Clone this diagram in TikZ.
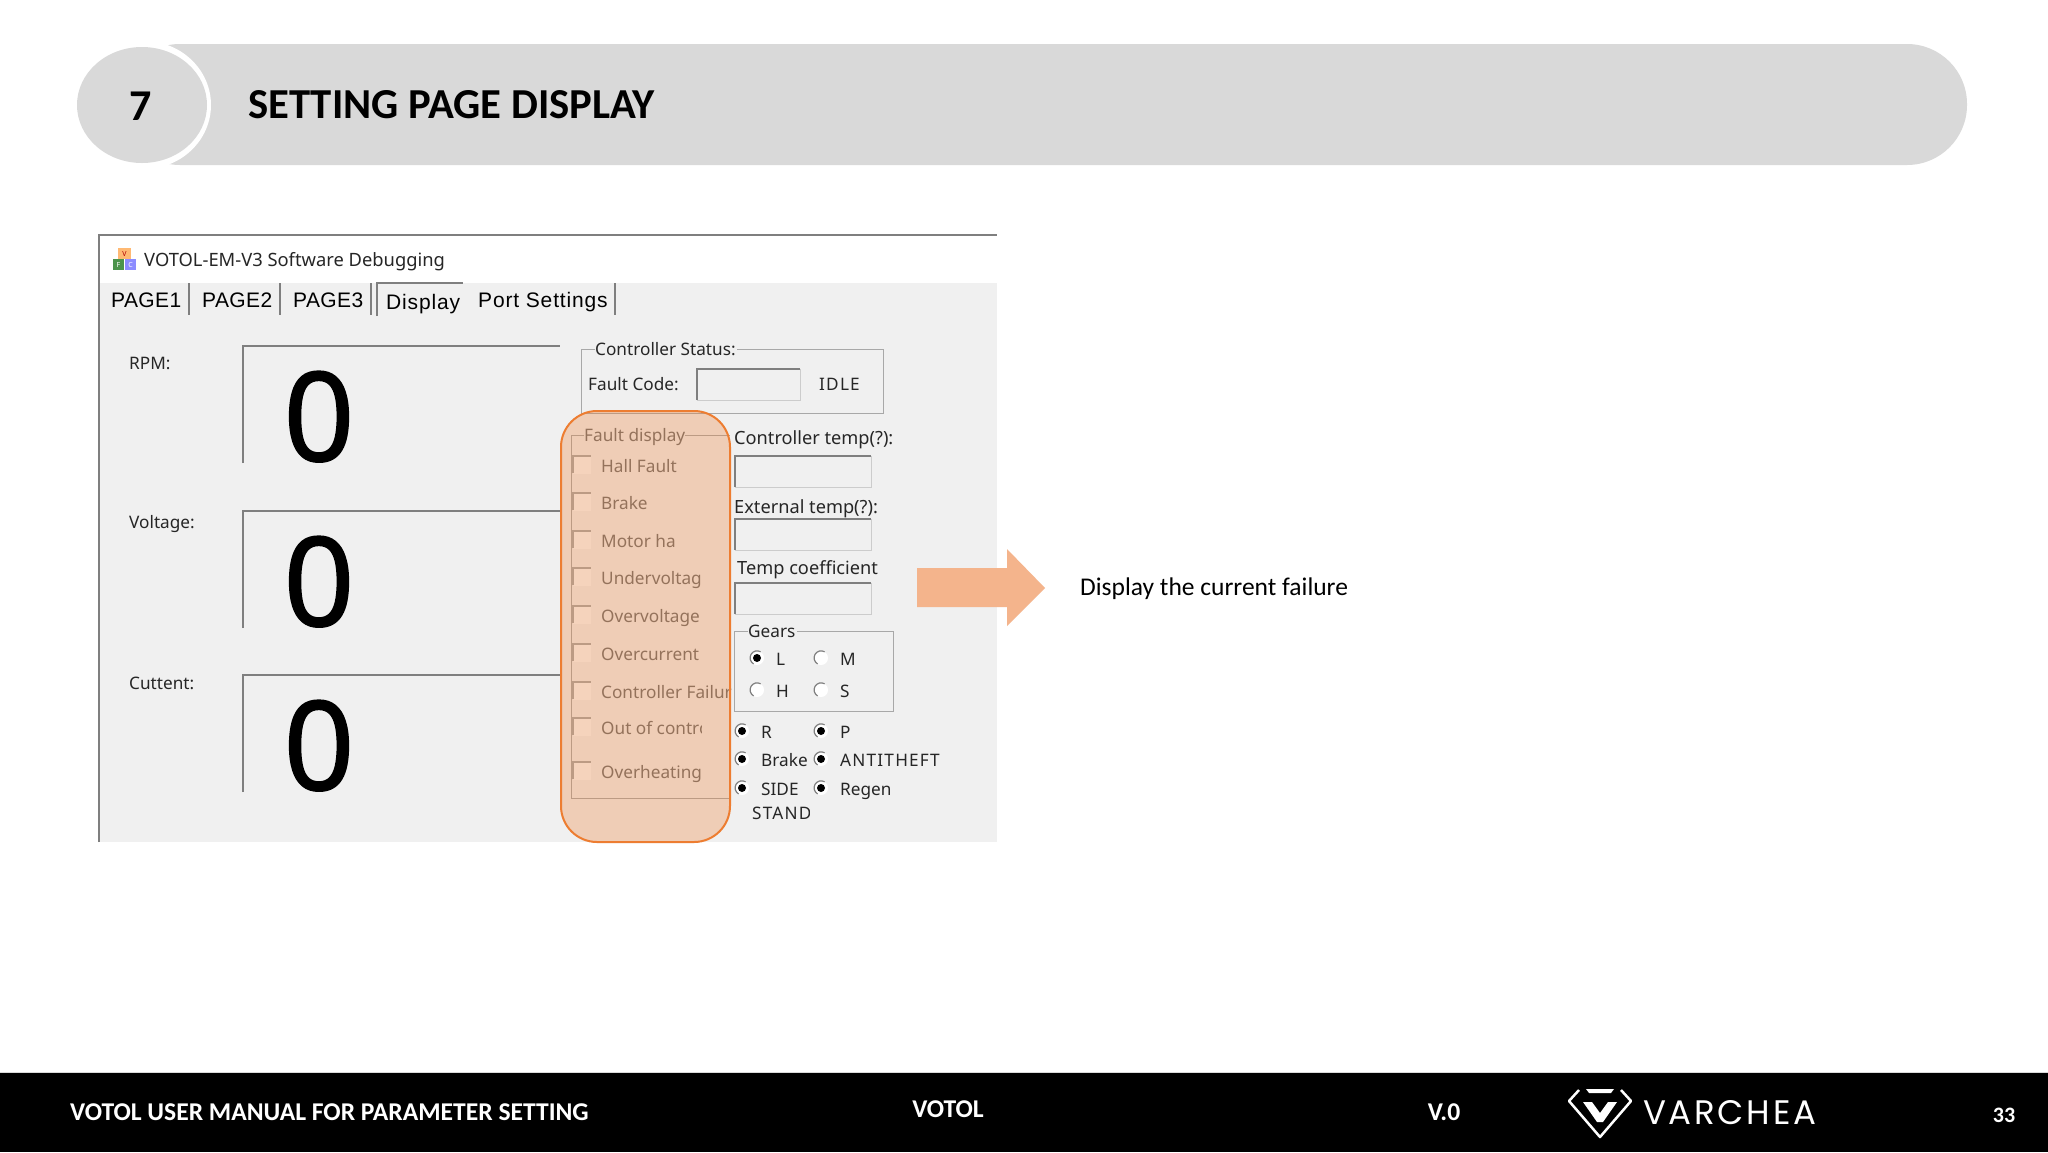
\documentclass[tikz,border=0pt]{standalone}
\usepackage{fontspec}
\setmainfont{Carlito}
\newfontfamily\uifont{Noto Sans}
\newfontfamily\ledfont[FakeBold=1.2]{Noto Sans}
\newfontfamily\uicaps[LetterSpace=7]{Noto Sans}
\newfontfamily\tabfont[LetterSpace=2]{Liberation Sans}
\newfontfamily\tabwide[LetterSpace=4]{Liberation Sans}
\newfontfamily\logofont[LetterSpace=8]{Poppins}
\usetikzlibrary{positioning,shapes,arrows}
\definecolor{bannergray}{HTML}{D9D9D9}
\definecolor{panelgray}{HTML}{F0F0F0}
\definecolor{uiline}{HTML}{7F7F7F}
\definecolor{uilight}{HTML}{A8A8A8}
\definecolor{uitext}{HTML}{262626}
\definecolor{distext}{HTML}{6E6E6E}
\definecolor{markorange}{HTML}{ED7D31}
\definecolor{arroworange}{HTML}{F4B48C}
\tikzset{
    lbl/.style={anchor=base west,inner sep=0pt,text=uitext,font=\uifont\fontsize{17.2}{19}\selectfont},
    biglbl/.style={lbl,font=\uifont\fontsize{18.2}{20}\selectfont},
    dis/.style={lbl,text=distext},
    tabl/.style={anchor=base west,inner sep=0pt,text=black,font=\tabfont\fontsize{21}{23}\selectfont},
    tabw/.style={tabl,font=\tabwide\fontsize{21}{23}\selectfont},
    foot/.style={inner sep=0pt,text=white,font=\bfseries\fontsize{25.6}{27}\selectfont},
    ledzero/.style={inner sep=0pt,anchor=base,text=black,font=\ledfont\fontsize{124}{126}\selectfont},
    icontext/.style={inner sep=0pt,font=\uifont\fontsize{7}{8}\selectfont},
    grp/.style={draw=uilight,line width=1pt},
    sunk/.style={draw=uiline,line width=2pt},
    radiobox/.style={circle,inner sep=0pt,minimum size=14pt,fill=white},
    dotmark/.style={circle,inner sep=0pt,minimum size=8pt,fill=black}
}
\newcommand{\newLed}[5]{
    \draw[sunk] (243,#2+117) -- (243,#2) -- (#3,#2);
    \node[lbl] (#1l) at (129,#5) {#4};
    \node[ledzero] (#1) at (319,#2+115) {0};
}
\newcommand{\newEdit}[5]{
    \node[biglbl] (#1l) at (#2,#5) {#4};
    \draw[sunk] (735,#3+31) -- (735,#3) -- (871,#3);
    \draw[panelgray!85!black,line width=.5pt] (871,#3) -- (871,#3+31) -- (735,#3+31);
}
\newcommand{\newCheck}[3]{
    \fill[panelgray!40!white] (573,#2) rectangle (591,#2+18);
    \draw[uilight,line width=1.5pt] (573,#2+17) -- (573,#2) -- (591,#2);
    \node[dis] (#1) at (601,#2+16) {#3};
}
\newcommand{\newRadio}[5]{
    \node[radiobox] (#1) at (#2,#3) {};
    \draw[uiline,line width=1.2pt] (#1.60) arc (60:240:7pt);
    \if#51\node[dotmark] at (#1) {};\fi
    \node[lbl] (#1l) at (#2+19,#3+7) {#4};
}
\begin{document}
\begin{tikzpicture}[x=1pt,y=-1pt]
    \useasboundingbox (0,0) rectangle (2048,1152);
    \fill[white] (0,0) rectangle (2048,1152);
    \fill[bannergray,rounded corners=60pt] (120,44) rectangle (1967,165);
    \fill[white] (144,105) ellipse (67 and 64);
    \fill[bannergray] (142,105) ellipse (65 and 58);
    \node[inner sep=0pt,font=\bfseries\fontsize{44}{46}\selectfont] (num) at (141,106) {7};
    \node[inner sep=0pt,anchor=west,font=\bfseries\fontsize{42.7}{44}\selectfont] (title) at (248,105) {SETTING PAGE DISPLAY};

    \fill[panelgray] (99,283) rectangle (997,842);
    \draw[uiline,line width=1.5pt] (99,842) -- (99,235) -- (997,235);
    \fill[orange!55!white] (118,248) rectangle (131,259);
    \fill[green!40!black!70!white] (113,259) rectangle (124,270);
    \fill[blue!45!white] (125,259) rectangle (136,270);
    \node[icontext,text=red!70!black] (iconv) at (124.5,253.5) {V};
    \node[icontext,text=white] (iconf) at (118.5,264.5) {F};
    \node[icontext,text=white] (iconc) at (130.5,264.5) {C};
    \node[anchor=base west,inner sep=0pt,text=uitext,font=\uifont\fontsize{18.35}{20}\selectfont] (wintitle) at (144,266) {VOTOL-EM-V3 Software Debugging};

    \node[tabl] (page1) at (111,307) {PAGE1};
    \node[tabl] (page2) at (202,307) {PAGE2};
    \node[tabl] (page3) at (293,307) {PAGE3};
    \node[tabw] (port) at (478,307) {Port Settings};
    \foreach \sx in {189,280,371,615}
        \draw[uiline,line width=1.5pt] (\sx,283) -- (\sx,315);
    \draw[uiline,line width=1.5pt] (377,316) -- (377,283) -- (463,283);
    \node[tabw] (display) at (386,309) {Display};

    \newLed{rpm}{346}{560}{RPM:}{369}
    \newLed{volt}{511}{561}{Voltage:}{528}
    \newLed{cur}{675}{561}{Cuttent:}{689}

    \draw[grp] (595,349) -- (581,349) -- (581,413) -- (883,413) -- (883,349) -- (737,349);
    \node[lbl] (status) at (595,355) {Controller Status:};
    \node[lbl] (fault) at (588,390) {Fault Code:};
    \draw[sunk] (697,400) -- (697,369) -- (800,369);
    \draw[panelgray!85!black,line width=.5pt] (800,369) -- (800,400) -- (697,400);
    \node[lbl] (idle) at (819,390) {\uicaps IDLE};

    \draw[grp] (584,435) -- (571,435) -- (571,798) -- (730,798);
    \draw[grp] (685,435) -- (730,435);
    \node[dis] (faultdisp) at (584,441) {Fault display};
    \newCheck{hall}{456}{Hall Fault}
    \newCheck{brk}{493}{Brake}
    \newCheck{motor}{531}{Motor ha}
    \newCheck{under}{568}{Undervoltag}
    \newCheck{over}{606}{Overvoltage}
    \newCheck{ocur}{644}{Overcurrent}
    \begin{scope}
        \clip (560,670) rectangle (731,705);
        \newCheck{ctrl}{682}{Controller Failure}
    \end{scope}
    \begin{scope}
        \clip (560,710) rectangle (701,745);
        \newCheck{outc}{718}{Out of control}
    \end{scope}
    \newCheck{heat}{762}{Overheating}

    \newEdit{ctemp}{734}{456}{Controller temp(?):}{444}
    \newEdit{etemp}{734}{519}{External temp(?):}{513}
    \newEdit{coef}{737}{583}{Temp coefficient}{574}

    \draw[grp] (748,631) -- (734,631) -- (734,711) -- (893,711) -- (893,631) -- (797,631);
    \node[lbl] (gears) at (748,637) {Gears};
    \newRadio{gl}{757}{658}{L}{1}
    \newRadio{gm}{821}{658}{M}{0}
    \newRadio{gh}{757}{690}{H}{0}
    \newRadio{gs}{821}{690}{S}{0}
    \newRadio{rr}{742}{731}{R}{1}
    \newRadio{pp}{821}{731}{P}{1}
    \newRadio{bb}{742}{759}{Brake}{1}
    \newRadio{aa}{821}{759}{\uicaps ANTITHEFT}{1}
    \newRadio{ss}{742}{788}{SIDE}{1}
    \newRadio{re}{821}{788}{Regen}{1}
    \begin{scope}
        \clip (745,800) rectangle (809,825);
        \node[lbl] (stand) at (752,819) {\uicaps STAND};
    \end{scope}

    \fill[markorange,fill opacity=.3,rounded corners=36pt] (561,411) rectangle (730,842);
    \draw[markorange,line width=2pt,rounded corners=36pt] (561,411) rectangle (730,842);

    \fill[arroworange] (917,568) -- (1007,568) -- (1007,549) -- (1045,588) -- (1007,626) -- (1007,607) -- (917,607) -- cycle;
    \node[anchor=west,inner sep=0pt,text=black,font=\fontsize{25.5}{27}\selectfont] (failtext) at (1080,589) {Display the current failure};

    \fill[black] (0,1072) rectangle (2048,1152);
    \draw[bannergray,line width=1pt] (0,1072) -- (2048,1072);
    \node[foot,anchor=west] (manual) at (70,1112) {VOTOL USER MANUAL FOR PARAMETER SETTING};
    \node[foot] (brand) at (948,1109) {VOTOL};
    \node[foot] (ver) at (1444,1112) {V.0};
    \node[foot,font=\bfseries\fontsize{22}{24}\selectfont] (pagenum) at (2004,1115) {33};
    \draw[white,line width=2.5pt,line join=round] (1579,1090) -- (1569,1101) -- (1600,1137) -- (1631,1101) -- (1621,1090);
    \fill[white] (1586,1089) -- (1614,1089) -- (1611,1093) -- (1589,1093) -- cycle;
    \fill[white] (1583,1102) -- (1592,1102) -- (1600,1113) -- (1608,1102) -- (1617,1102) -- (1603,1122) -- (1597,1122) -- cycle;
    \node[anchor=west,inner sep=0pt,text=white,font=\logofont\fontsize{34}{36}\selectfont] (logo) at (1643,1113) {VARCHEA};
\end{tikzpicture}
\end{document}
